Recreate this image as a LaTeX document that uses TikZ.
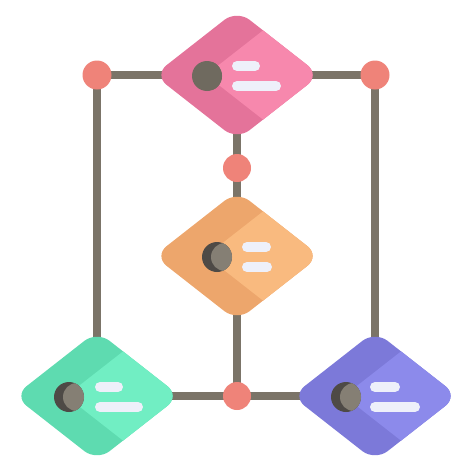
\documentclass[tikz,border=0pt]{standalone}
\definecolor{linkc}{HTML}{7B7468}
\definecolor{dotc}{HTML}{EF8379}
\definecolor{pinkD}{HTML}{E4739A}
\definecolor{pinkL}{HTML}{F788AD}
\definecolor{oranD}{HTML}{EDA66C}
\definecolor{oranL}{HTML}{F9BA7F}
\definecolor{grenD}{HTML}{5EDBB0}
\definecolor{grenL}{HTML}{71EEC3}
\definecolor{purpD}{HTML}{7C79D9}
\definecolor{purpL}{HTML}{8C8AEB}
\definecolor{barc}{HTML}{EEF0FA}
\definecolor{eyeD}{HTML}{4E4A46}
\definecolor{eyeL}{HTML}{857F74}
\definecolor{eyeT}{HTML}{6F6A5F}
\def\eyedark{eyeD}
\newcommand\iconcard[9]{% x,y,dark,light,eye dx,bar1 end,bar2 end,bar start,eye light
\begin{scope}[shift={(#1,#2)}]
  \begin{scope}
    \clip[rounded corners=16pt] (-83,0) -- (0,-65) -- (83,0) -- (0,65) -- cycle;
    \fill[#3] (-90,-70) rectangle (90,70);
    \fill[#4] (-31,0) -- (125,-122) -- (200,-122) -- (200,122) -- (125,122) -- cycle;
  \end{scope}
  \fill[\eyedark] (#5,1) circle[radius=15];
  \begin{scope}
    \clip (#5,1) circle[radius=15];
    \fill[#9] (#5+8,1) circle[radius=14];
  \end{scope}
  \draw[bar] (#8+5,-9) -- (#6-5,-9);
  \draw[bar] (#8+5,11) -- (#7-5,11);
\end{scope}}
\begin{document}
\begin{tikzpicture}[x=1pt,y=-1pt,
  link/.style={draw=linkc,line width=8pt},
  dot/.style={circle,fill=dotc,inner sep=0pt,minimum size=29pt},
  bar/.style={draw=barc,line width=10pt,line cap=round}]
\useasboundingbox (0,0) rectangle (474,474);
\coordinate (top) at (237,75);
\coordinate (mid) at (237,256);
\coordinate (bl) at (97,396);
\coordinate (br) at (375,396);
\coordinate (c1) at (97,75);
\coordinate (c2) at (375,75);
\coordinate (c3) at (237,168);
\coordinate (c4) at (237,396);
\draw[link] (c1) -- (c2);
\draw[link] (c1) -- (bl);
\draw[link] (c2) -- (br);
\draw[link] (bl) -- (br);
\draw[link] (top) -- (c4);
\def\eyedark{eyeT}
\iconcard{237}{75}{pinkD}{pinkL}{-30}{23}{44}{-5}{eyeT}
\def\eyedark{eyeD}
\iconcard{237}{256}{oranD}{oranL}{-20}{34}{35}{5}{eyeL}
\iconcard{97}{396}{grenD}{grenL}{-28}{26}{46}{-2}{eyeL}
\iconcard{375}{396}{purpD}{purpL}{-29}{25}{45}{-5}{eyeL}
\node[dot] (n1) at (c1) {};
\node[dot] (n2) at (c2) {};
\node[dot,minimum size=28pt] (n3) at (c3) {};
\node[dot,minimum size=28pt] (n4) at (c4) {};
\end{tikzpicture}
\end{document}
